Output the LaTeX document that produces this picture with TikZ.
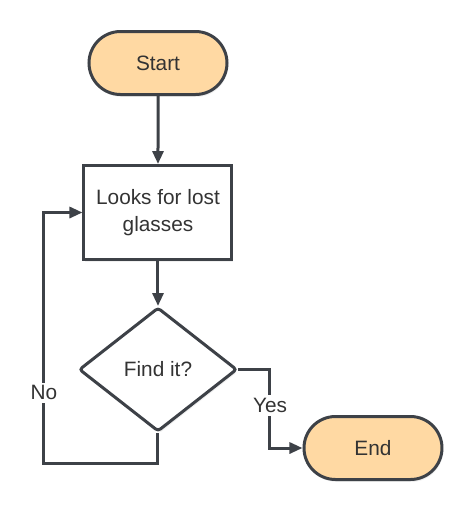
\documentclass[tikz,border=0pt]{standalone}
\usepackage{fontspec}
\setmainfont{Liberation Sans}
\usetikzlibrary{shapes.misc,shapes.geometric,arrows.meta,shadows}
\definecolor{lineC}{HTML}{3D4147}
\definecolor{fillC}{HTML}{FFD9A3}
\definecolor{textC}{HTML}{333333}
\tikzset{
  base/.style={draw=lineC, line width=1.5pt, text=textC, font=\fontsize{10.4pt}{13.5pt}\selectfont,
    drop shadow={opacity=0.12, shadow xshift=0.6pt, shadow yshift=-1.2pt}},
  terminal/.style={base, rounded rectangle, fill=fillC, minimum width=69pt, minimum height=31.5pt, inner sep=0pt},
  process/.style={base, rectangle, fill=white, minimum width=74pt, minimum height=47pt, align=center, inner sep=0pt},
  decision/.style={base, diamond, fill=white, minimum width=79pt, minimum height=62pt, inner sep=0pt, rounded corners=1.5pt},
  conn/.style={draw=lineC, line width=1.5pt, -{Triangle[length=6.5pt,width=5.5pt]}},
  lbl/.style={fill=white, text=textC, font=\fontsize{10.4pt}{12pt}\selectfont, inner sep=1.5pt}
}
\begin{document}
\begin{tikzpicture}[x=0.5pt,y=-0.5pt]
\useasboundingbox (0,0) rectangle (474,511);
\node[terminal] (start) at (158,63) {Start};
\node[process] (look) at (158,212.5) {Looks for lost\\glasses};
\node[decision] (find) at (158,369.5) {Find it?};
\node[terminal] (end) at (373,448) {End};
\coordinate (yc) at (270,369.5);
\coordinate (nl) at (44,463);
\draw[conn] (start) -- (look);
\draw[conn] (look) -- (find);
\draw[conn] (find.east) -- (yc) |- node[lbl, pos=0.23] {Yes} (end.west);
\draw[conn] (find.south) |- (nl) |- node[lbl, pos=0.14] {No} (look.west);
\end{tikzpicture}
\end{document}
